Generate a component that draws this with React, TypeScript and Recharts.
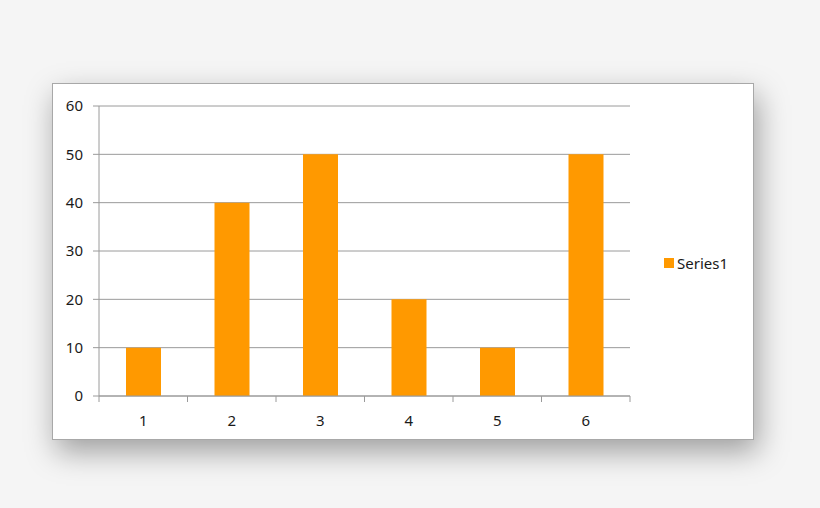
import React from "react";
import {
  BarChart,
  Bar,
  XAxis,
  YAxis,
  CartesianGrid,
  Legend,
} from "recharts";

const categories = ["1", "2", "3", "4", "5", "6"];
const series1 = [10, 40, 50, 20, 10, 50];
const yTicks = [0, 10, 20, 30, 40, 50, 60];

const data = categories.map((name, i) => ({ name, Series1: series1[i] }));

const GRID = "#9a9a9a";
const ORANGE = "#FF9900";
const TEXT = "#1a1a1a";
const FONT = "'Noto Sans', sans-serif";

const BoundaryTick = (props: any) => {
  const { x, y, payload, index, visibleTicksCount } = props;
  const half = payload?.offset ?? 44;
  const last = index === visibleTicksCount - 1;
  return (
    <g>
      <line x1={x - half} x2={x - half} y1={y} y2={y + 6} stroke={GRID} />
      {last && (
        <line x1={x + half} x2={x + half} y1={y} y2={y + 6} stroke={GRID} />
      )}
      <text
        x={x}
        y={y + 24}
        textAnchor="middle"
        dominantBaseline="central"
        fill={TEXT}
        fontSize={15}
        fontFamily={FONT}
      >
        {payload.value}
      </text>
    </g>
  );
};

const LegendBox = () => (
  <div
    style={{
      display: "flex",
      alignItems: "center",
      fontFamily: FONT,
      fontSize: 15,
      color: TEXT,
      whiteSpace: "nowrap",
    }}
  >
    <span
      style={{
        width: 10,
        height: 10,
        background: ORANGE,
        display: "inline-block",
        marginRight: 3,
      }}
    />
    Series1
  </div>
);

export default function App() {
  return (
    <div
      style={{
        position: "fixed",
        left: 0,
        top: 0,
        width: 820,
        height: 508,
        background: "#f5f5f5",
        overflow: "hidden",
      }}
    >
      <div
        style={{
          position: "absolute",
          left: 52,
          top: 83,
          width: 700,
          height: 355,
          background: "#fff",
          border: "1px solid #a8a8a8",
          boxShadow: "4px 12px 28px rgba(0,0,0,0.35)",
        }}
      >
        <BarChart
          width={700}
          height={355}
          data={data}
          margin={{ top: 22, right: 53, left: 0, bottom: 0 }}
        >
          <CartesianGrid vertical={false} stroke={GRID} />
          <XAxis
            dataKey="name"
            height={43}
            stroke={GRID}
            tickLine={false}
            tickSize={0}
            tickMargin={0}
            tick={<BoundaryTick />}
            interval={0}
          />
          <YAxis
            width={46}
            domain={[0, 60]}
            ticks={yTicks}
            stroke={GRID}
            tickSize={6}
            tickMargin={10}
            tick={{ fill: TEXT, fontSize: 15, fontFamily: FONT }}
          />
          <Legend
            layout="vertical"
            align="right"
            verticalAlign="middle"
            content={<LegendBox />}
            wrapperStyle={{ left: 611, top: 169, width: 70 }}
          />
          <Bar
            dataKey="Series1"
            fill={ORANGE}
            barSize={35}
            isAnimationActive={false}
          />
        </BarChart>
      </div>
    </div>
  );
}
